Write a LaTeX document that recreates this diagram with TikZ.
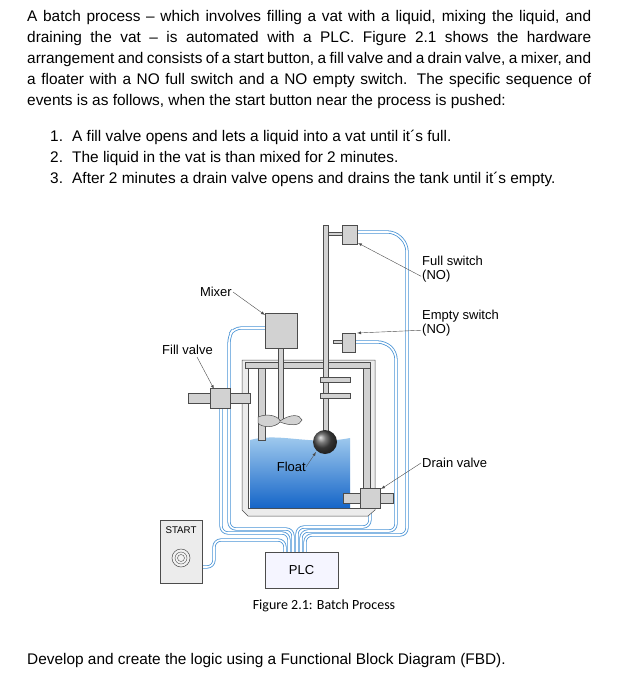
\documentclass[tikz,border=0pt]{standalone}
\usepackage{fontspec}
\setmainfont{Liberation Sans}
\newfontfamily\capfont{Carlito}
\begin{document}
\begin{tikzpicture}[x=1pt,y=-1pt,
  wire/.style={draw=wireblue,double=white,double distance=1.6pt,line width=0.8pt,rounded corners=7pt},
  part/.style={draw=black!70,fill=gray!35,line width=0.5pt},
  lead/.style={draw=black!70,line width=0.4pt},
  lbl/.style={font=\fontsize{13}{14}\selectfont,inner sep=0pt,align=left},
  txt/.style={font=\fontsize{15.4}{21}\selectfont,inner sep=0pt}]
\definecolor{wireblue}{HTML}{4A94D6}
\definecolor{liqtop}{HTML}{A8D0F0}
\definecolor{liqbot}{HTML}{1565C8}
\useasboundingbox (0,0) rectangle (618,676);
\fill[white] (0,0) rectangle (618,676);
% paragraph
\node[txt,anchor=north west,text width=564pt,align=justify] (para) at (27,10)
{\hyphenpenalty=10000 A batch process -- which involves filling a vat with a liquid, mixing the liquid, and\linebreak draining the vat -- is automated with a PLC. Figure 2.1 shows the hardware\linebreak arrangement and consists of a start button, a fill valve and a drain valve, a mixer, and\linebreak a floater with a NO full switch and a NO empty switch. The specific sequence of\linebreak events is as follows, when the start button near the process is pushed:};
\node[txt,anchor=base west] (n1) at (50,142) {1.};
\node[txt,anchor=base west] (t1) at (72,142) {A fill valve opens and lets a liquid into a vat until it´s full.};
\node[txt,anchor=base west] (n2) at (50,163) {2.};
\node[txt,anchor=base west] (t2) at (72,163) {The liquid in the vat is than mixed for 2 minutes.};
\node[txt,anchor=base west] (n3) at (50,184) {3.};
\node[txt,anchor=base west] (t3) at (72,184) {After 2 minutes a drain valve opens and drains the tank until it´s empty.};
% wires
\draw[wire] (357,232) -- (395,232) -- (407,244) -- (407,535) -- (305,535) -- (305,552);
\draw[wire] (355,342) -- (385,342) -- (396,352) -- (396,531) -- (301,531) -- (301,552);
\draw[wire] (370,508) -- (370,527) -- (297,527) -- (297,552);
\draw[wire] (265,328) -- (234,328) -- (229,336) -- (229,529) -- (293,529) -- (293,552);
\draw[wire] (221,408) -- (221,533) -- (289,533) -- (289,552);
\draw[wire] (202,567) -- (214,567) -- (214,540) -- (285,540) -- (285,552);
% tank
\draw[part,fill=gray!15] (242,360) -- (375,360) -- (375,510) -- (368,516) -- (248,516) -- (242,510) -- cycle;
\draw[part,fill=white] (248,366) -- (369,366) -- (369,508) -- (248,508) -- cycle;
\shade[top color=liqtop,bottom color=liqbot] (250,440) .. controls (280,432) and (310,446) .. (350,438) -- (350,508) -- (250,508) -- cycle;
\draw[part] (245,362) rectangle (370,368);
\draw[part] (363,368) rectangle (370,490);
\draw[part] (258,368) rectangle (265,440);
% mixer
\draw[part] (278,348) rectangle (283,420);
\draw[part] (258,417) .. controls (270,412) and (280,418) .. (280,421) .. controls (290,414) and (300,414) .. (302,420) .. controls (300,426) and (290,426) .. (280,422) .. controls (275,428) and (262,428) .. (258,423) -- cycle;
\draw[part] (265,313) rectangle (297,348);
\node (mixer) at (281,330) {};
% rod
\draw[part] (323,225) rectangle (328,436);
\draw[part] (320,377) rectangle (350,382);
\draw[part] (320,393) rectangle (350,398);
\shade[ball color=gray!60!black] (325,442) circle (12);
\node (ball) at (325,442) {};
% switches
\draw[part] (328,232) rectangle (342,235);
\draw[part] (342,225) rectangle (357,244);
\node (fsw) at (350,234) {};
\draw[part] (333,340) rectangle (342,343);
\draw[part] (342,333) rectangle (355,352);
\node (esw) at (349,342) {};
% fill valve
\draw[part] (188,393) rectangle (250,403);
\draw[part] (210,388) rectangle (230,408);
\node (fv) at (220,398) {};
% drain valve
\draw[part] (343,493) rectangle (393,503);
\draw[part] (360,488) rectangle (380,508);
\node (dv) at (370,498) {};
% PLC
\node[draw=black!70,fill=blue!4,minimum width=73pt,minimum height=36pt,font=\fontsize{13}{14}\selectfont,line width=0.6pt] (plc) at (301.5,570) {PLC};
% start
\draw[part,fill=gray!15] (160,520) rectangle (202,583);
\node[lbl,font=\fontsize{9.7}{10}\selectfont] (start) at (181,530) {START};
\draw[part,fill=gray!10] (181,558) circle (9);
\draw[black!70] (181,558) circle (6) (181,558) circle (3.5);
% labels
\node[lbl,anchor=north west] (fl) at (422,256) {Full switch\\(NO)};
\node[lbl,anchor=north west] (el) at (422,310) {Empty switch\\(NO)};
\node[lbl,anchor=west] (dl) at (422,463) {Drain valve};
\node[lbl,anchor=east] (ml) at (232,292) {Mixer};
\node[lbl,anchor=east] (fvl) at (213,350) {Fill valve};
\node[lbl,anchor=east] (fll) at (306,467) {Float};
\draw[lead,-latex] (fl.west) ++(-1,7) -- (358,243);
\draw[lead,-latex] (el.west) ++(-1,7) -- (357,333);
\draw[lead,-latex] (dl.west) ++(-1,0) -- (381,489);
\draw[lead,-latex] (ml.east) ++(1,0) -- (265,315);
\draw[lead,-latex] (197,357) -- (214,389);
\draw[lead,-latex] (fll.east) -- (316,452);
\node[font=\capfont\fontsize{14}{15}\selectfont,inner sep=0pt] (cap) at (324,606) {Figure 2.1: Batch Process};
\node[txt,anchor=base west] (last) at (27,664) {Develop and create the logic using a Functional Block Diagram (FBD).};
\end{tikzpicture}
\end{document}
